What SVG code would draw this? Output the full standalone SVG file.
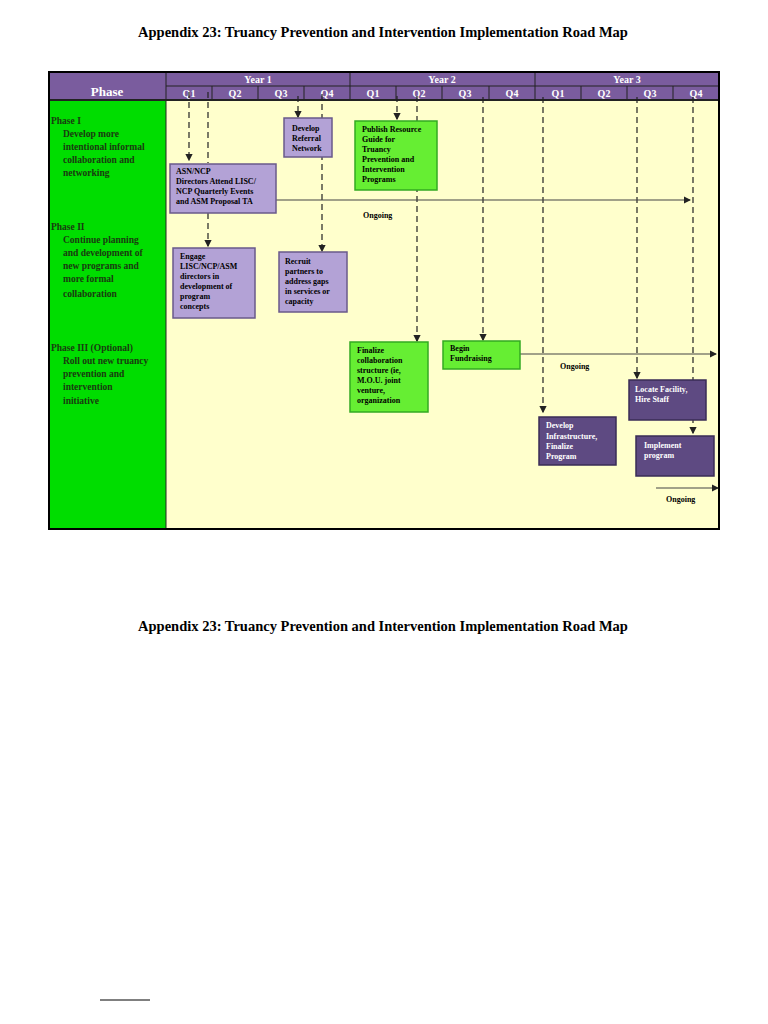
<svg xmlns="http://www.w3.org/2000/svg" width="768" height="1024" viewBox="0 0 768 1024">
<style>
.t{font-family:"Liberation Serif",serif;font-weight:bold;fill:#000}
.title{font-size:14.5px}
.hd{font-size:10px;fill:#fff;text-anchor:middle}
.ph{font-size:9.5px;fill:#1a3a10}
.bx{font-size:8px;font-family:"Liberation Serif",serif;font-weight:bold}
.lp{fill:#b3a2d6;stroke:#6a5a8a;stroke-width:1.5}
.dp{fill:#5e4a82;stroke:#3a2c55;stroke-width:1.5}
.gr{fill:#66ee33;stroke:#33aa22;stroke-width:1.5}
.dash{stroke:#222;stroke-width:1.2;stroke-dasharray:6,4;fill:none}
.sol{stroke:#444;stroke-width:1.2;fill:none}
</style>
<defs>
<marker id="a" markerWidth="6" markerHeight="6" refX="5" refY="3" orient="auto"><path d="M0,0L6,3L0,6z" fill="#222"/></marker>
</defs>
<rect width="768" height="1024" fill="#fff"/>
<text class="t title" x="383" y="37" text-anchor="middle">Appendix 23:  Truancy Prevention and Intervention Implementation Road Map</text>
<text class="t title" x="383" y="631" text-anchor="middle">Appendix 23:  Truancy Prevention and Intervention Implementation Road Map</text>
<line x1="100" y1="1000" x2="150" y2="1000" stroke="#000" stroke-width="1"/>
<g id="table">
<rect x="49" y="72" width="670" height="457" fill="#ffffcc" stroke="#000" stroke-width="2"/>
<rect x="49" y="72" width="670" height="28" fill="#7a5c9e"/>
<rect x="49" y="100" width="117" height="429" fill="#00dd00"/>
<g stroke="#222" stroke-width="1">
<line x1="166" y1="72" x2="166" y2="529"/><line x1="166" y1="86" x2="719" y2="86"/>
<line x1="350" y1="72" x2="350" y2="100"/><line x1="535" y1="72" x2="535" y2="100"/>
<line x1="212" y1="86" x2="212" y2="100"/><line x1="258" y1="86" x2="258" y2="100"/><line x1="304" y1="86" x2="304" y2="100"/>
<line x1="396" y1="86" x2="396" y2="100"/><line x1="442" y1="86" x2="442" y2="100"/><line x1="489" y1="86" x2="489" y2="100"/>
<line x1="581" y1="86" x2="581" y2="100"/><line x1="627" y1="86" x2="627" y2="100"/><line x1="673" y1="86" x2="673" y2="100"/>
<line x1="49" y1="100" x2="719" y2="100" stroke-width="2"/>
</g>
<rect x="49" y="72" width="670" height="457" fill="none" stroke="#000" stroke-width="2"/>
<text class="t hd" x="107" y="96" style="font-size:13px">Phase</text>
<text class="t hd" x="258" y="83">Year 1</text><text class="t hd" x="442" y="83">Year 2</text><text class="t hd" x="627" y="83">Year 3</text>
<text class="t hd" x="189" y="97">Q1</text><text class="t hd" x="235" y="97">Q2</text><text class="t hd" x="281" y="97">Q3</text><text class="t hd" x="327" y="97">Q4</text>
<text class="t hd" x="373" y="97">Q1</text><text class="t hd" x="419" y="97">Q2</text><text class="t hd" x="465" y="97">Q3</text><text class="t hd" x="512" y="97">Q4</text>
<text class="t hd" x="558" y="97">Q1</text><text class="t hd" x="604" y="97">Q2</text><text class="t hd" x="650" y="97">Q3</text><text class="t hd" x="696" y="97">Q4</text>
<g class="t ph">
<text x="51" y="124">Phase I</text><text x="63" y="137">Develop more</text><text x="63" y="150">intentional informal</text><text x="63" y="163">collaboration and</text><text x="63" y="176">networking</text>
<text x="51" y="230">Phase II</text><text x="63" y="243">Continue planning</text><text x="63" y="256">and development of</text><text x="63" y="269">new programs and</text><text x="63" y="282">more formal</text><text x="63" y="297">collaboration</text>
<text x="51" y="351">Phase III (Optional)</text><text x="63" y="364">Roll out new truancy</text><text x="63" y="377">prevention and</text><text x="63" y="390">intervention</text><text x="63" y="404">initiative</text>
</g>
</g>
<g id="connectors">
<path class="dash" d="M189,92V160" marker-end="url(#a)"/>
<path class="dash" d="M208,92V163"/>
<path class="dash" d="M208,213V246" marker-end="url(#a)"/>
<path class="dash" d="M298,96V117" marker-end="url(#a)"/>
<path class="dash" d="M322,94V251" marker-end="url(#a)"/>
<path class="dash" d="M397,96V119" marker-end="url(#a)"/>
<path class="dash" d="M417,96V341" marker-end="url(#a)"/>
<path class="dash" d="M483,97V340" marker-end="url(#a)"/>
<path class="dash" d="M543,97V412" marker-end="url(#a)"/>
<path class="dash" d="M637,97V378" marker-end="url(#a)"/>
<path class="dash" d="M693,97V433" marker-end="url(#a)"/>
<path class="sol" d="M276,200H690" marker-end="url(#a)"/>
<path class="sol" d="M520,354H716" marker-end="url(#a)"/>
<path class="sol" d="M656,488H718" marker-end="url(#a)"/>
<text class="bx" x="363" y="218">Ongoing</text>
<text class="bx" x="560" y="369">Ongoing</text>
<text class="bx" x="666" y="502">Ongoing</text>
</g>
<g id="referral"><rect class="lp" x="284" y="118" width="48" height="39"/><text class="bx" x="292" y="131">Develop</text><text class="bx" x="292" y="141">Referral</text><text class="bx" x="292" y="151">Network</text></g>
<g id="publish"><rect class="gr" x="355" y="121" width="82" height="69"/><text class="bx" x="362" y="132">Publish Resource</text><text class="bx" x="362" y="142">Guide for</text><text class="bx" x="362" y="152">Truancy</text><text class="bx" x="362" y="162">Prevention and</text><text class="bx" x="362" y="172">Intervention</text><text class="bx" x="362" y="182">Programs</text></g>
<g id="asn"><rect class="lp" x="170" y="164" width="106" height="49"/><text class="bx" x="176" y="174">ASN/NCP</text><text class="bx" x="176" y="184">Directors Attend LISC/</text><text class="bx" x="176" y="194">NCP Quarterly Events</text><text class="bx" x="176" y="204">and ASM Proposal TA</text></g>
<g id="engage"><rect class="lp" x="173" y="248" width="82" height="70"/><text class="bx" x="180" y="259">Engage</text><text class="bx" x="180" y="269">LISC/NCP/ASM</text><text class="bx" x="180" y="279">directors in</text><text class="bx" x="180" y="289">development of</text><text class="bx" x="180" y="299">program</text><text class="bx" x="180" y="309">concepts</text></g>
<g id="recruit"><rect class="lp" x="279" y="252" width="68" height="60"/><text class="bx" x="285" y="264">Recruit</text><text class="bx" x="285" y="274">partners to</text><text class="bx" x="285" y="284">address gaps</text><text class="bx" x="285" y="294">in services or</text><text class="bx" x="285" y="304">capacity</text></g>
<g id="finalize"><rect class="gr" x="350" y="342" width="78" height="70"/><text class="bx" x="357" y="353">Finalize</text><text class="bx" x="357" y="363">collaboration</text><text class="bx" x="357" y="373">structure (ie,</text><text class="bx" x="357" y="383">M.O.U. joint</text><text class="bx" x="357" y="393">venture,</text><text class="bx" x="357" y="403">organization</text></g>
<g id="fundraising"><rect class="gr" x="443" y="341" width="77" height="28"/><text class="bx" x="450" y="351">Begin</text><text class="bx" x="450" y="361">Fundraising</text></g>
<g id="infrastructure"><rect class="dp" x="539" y="417" width="77" height="48"/><text class="bx" x="546" y="428" fill="#fff">Develop</text><text class="bx" x="546" y="439" fill="#fff">Infrastructure,</text><text class="bx" x="546" y="449" fill="#fff">Finalize</text><text class="bx" x="546" y="459" fill="#fff">Program</text></g>
<g id="locate"><rect class="dp" x="629" y="380" width="77" height="40"/><text class="bx" x="635" y="392" fill="#fff">Locate Facility,</text><text class="bx" x="635" y="402" fill="#fff">Hire Staff</text></g>
<g id="implement"><rect class="dp" x="636" y="436" width="78" height="40"/><text class="bx" x="644" y="448" fill="#fff">Implement</text><text class="bx" x="644" y="458" fill="#fff">program</text></g>
</svg>
